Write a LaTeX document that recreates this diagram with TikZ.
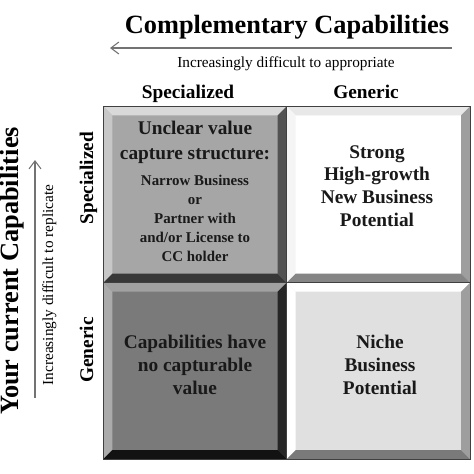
\documentclass[tikz,border=0pt]{standalone}
\usepackage{fontspec}
\setmainfont{Liberation Serif}
\usetikzlibrary{arrows.meta, positioning, calc}

\newcommand{\bigtxt}{\fontsize{11}{13}\selectfont}
\newcommand{\smalltxt}{\fontsize{8.5}{10.8}\selectfont}
\newcommand{\bw}{0.18cm}

\begin{document}
\begin{tikzpicture}[
        x=0.02cm, y=-0.02cm,
        node distance=0pt,
        cell/.style n args={5}{rectangle, draw=black!75, line width=0.5pt, minimum width=3.67cm, minimum height=3.53cm, inner sep=0pt, outer sep=0pt, fill=#1,
            path picture={
                \coordinate (pnw) at (path picture bounding box.north west);
                \coordinate (pne) at (path picture bounding box.north east);
                \coordinate (psw) at (path picture bounding box.south west);
                \coordinate (pse) at (path picture bounding box.south east);
                \fill[#2] (pnw) -- (pne) -- ([shift={(-\bw,-\bw)}]pne) -- ([shift={(\bw,-\bw)}]pnw) -- cycle;
                \fill[#3] (pnw) -- (psw) -- ([shift={(\bw,\bw)}]psw) -- ([shift={(\bw,-\bw)}]pnw) -- cycle;
                \fill[#4] (pne) -- (pse) -- ([shift={(-\bw,\bw)}]pse) -- ([shift={(-\bw,-\bw)}]pne) -- cycle;
                \fill[#5] (psw) -- (pse) -- ([shift={(-\bw,\bw)}]pse) -- ([shift={(\bw,\bw)}]psw) -- cycle;
            }},
        celltext/.style={align=center, font=\fontsize{11}{13}\selectfont\bfseries, text=black!90},
        title/.style={font=\fontsize{15}{18}\selectfont\bfseries, anchor=base},
        subtitle/.style={font=\fontsize{8.7}{10}\selectfont, anchor=base},
        axislabel/.style={font=\fontsize{11}{13}\selectfont\bfseries, anchor=base},
        arrow/.style={-{Straight Barb[length=1.6mm, width=2.4mm]}, draw=black!55, line width=0.6pt}
    ]
        \useasboundingbox (0,0) rectangle (474,474);

        % titles and arrows
        \node[title] (cctitle) at (287,33) {Complementary Capabilities};
        \coordinate (ccfrom) at (452,48);
        \coordinate (ccto) at (110,48);
        \draw[arrow] (ccfrom) -- (ccto);
        \node[subtitle] (ccsub) at (286,67) {Increasingly difficult to appropriate};

        \node[title, rotate=90] (yctitle) at (18,271) {Your current Capabilities};
        \coordinate (ycfrom) at (35,398);
        \coordinate (ycto) at (35,160);
        \draw[arrow] (ycfrom) -- (ycto);
        \node[subtitle, rotate=90] (ycsub) at (53,285) {Increasingly difficult to replicate};

        % axis labels
        \node[axislabel] (colspec) at (188,98) {Specialized};
        \node[axislabel] (colgen) at (366,98) {Generic};
        \node[axislabel, rotate=90] (rowspec) at (93,178) {Specialized};
        \node[axislabel, rotate=90] (rowgen) at (93,350) {Generic};

        % the four cells
        \node[cell={black!35}{black!15}{black!22}{black!68}{black!78}] (ss) at (195,194.5) {};
        \node[cell={white}{black!9}{black!4}{black!38}{black!48}, right=of ss] (sg) {};
        \node[cell={black!52}{black!37}{black!33}{black!85}{black!93}, below=of ss] (gs) {};
        \node[cell={black!12}{white}{white}{black!38}{black!52}, right=of gs] (gg) {};

        \node[celltext] (sstext) at (195,191) {\bigtxt Unclear value\\[1.2pt] \bigtxt capture structure:\\[1.8pt]
            \smalltxt Narrow Business\\[-2.2pt] \smalltxt or\\[-2.2pt] \smalltxt Partner with\\[-2.2pt] \smalltxt and/or License to\\[-2.2pt] \smalltxt CC holder};
        \node[celltext] (sgtext) at (377,186) {Strong\\ High-growth\\ New Business\\ Potential};
        \node[celltext] (gstext) at (195,365) {Capabilities have\\ no capturable\\ value};
        \node[celltext] (ggtext) at (380,365) {Niche\\ Business\\ Potential};
    \end{tikzpicture}
\end{document}
